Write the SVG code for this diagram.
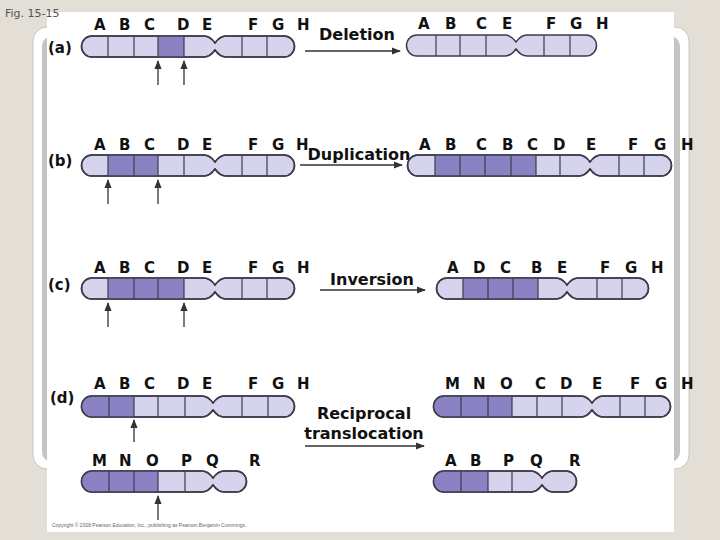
<svg xmlns="http://www.w3.org/2000/svg" xmlns:xlink="http://www.w3.org/1999/xlink" width="720" height="540" viewBox="0 0 720 540">
<style>
.ch{fill:#d5d4ec;stroke:#3c3c4c;stroke-width:1.5}
.dk{fill:#8a82c2}
.dv{stroke:#3c3c4c;stroke-width:1.2}
.lb{font-family:"DejaVu Sans",sans-serif;font-weight:bold;font-size:15px;fill:#111}
.op{font-family:"DejaVu Sans",sans-serif;font-weight:bold;font-size:16px;fill:#111;text-anchor:middle}
.ar{stroke:#333;stroke-width:1.3;fill:none}
</style>
<defs>
<marker id="ah" viewBox="0 0 10 10" refX="9" refY="5" markerWidth="7" markerHeight="7" orient="auto"><path d="M0,1 L10,5 L0,9 Z" fill="#333"/></marker>
<path id="p1" d="M92 36 H204 Q210 36 215 43 Q220 36 226 36 H284 A10 10 0 0 1 284 57 H226 Q220 57 215 50 Q210 57 204 57 H92 A10 10 0 0 1 92 36 Z"/>
<path id="p2" d="M417 35 H505 Q511 35 516 42 Q521 35 527 35 H586 A10 10 0 0 1 586 56 H527 Q521 56 516 49 Q511 56 505 56 H417 A10 10 0 0 1 417 35 Z"/>
<path id="p3" d="M92 155 H204 Q210 155 215 162 Q220 155 226 155 H284 A10 10 0 0 1 284 176 H226 Q220 176 215 169 Q210 176 204 176 H92 A10 10 0 0 1 92 155 Z"/>
<path id="p4" d="M418 155 H579 Q585 155 590 162 Q595 155 601 155 H661 A10 10 0 0 1 661 176 H601 Q595 176 590 169 Q585 176 579 176 H418 A10 10 0 0 1 418 155 Z"/>
<path id="p5" d="M92 278 H204 Q210 278 215 285 Q220 278 226 278 H284 A10 10 0 0 1 284 299 H226 Q220 299 215 292 Q210 299 204 299 H92 A10 10 0 0 1 92 278 Z"/>
<path id="p6" d="M447 278 H556 Q562 278 567 285 Q572 278 578 278 H638 A10 10 0 0 1 638 299 H578 Q572 299 567 292 Q562 299 556 299 H447 A10 10 0 0 1 447 278 Z"/>
<path id="p7" d="M92 396 H202 Q208 396 213 403 Q218 396 224 396 H284 A10 10 0 0 1 284 417 H224 Q218 417 213 410 Q208 417 202 417 H92 A10 10 0 0 1 92 396 Z"/>
<path id="p8" d="M92 471 H202 Q208 471 213 478 Q218 471 224 471 H236 A10 10 0 0 1 236 492 H224 Q218 492 213 485 Q208 492 202 492 H92 A10 10 0 0 1 92 471 Z"/>
<path id="p9" d="M444 396 H581 Q587 396 592 403 Q597 396 603 396 H660 A10 10 0 0 1 660 417 H603 Q597 417 592 410 Q587 417 581 417 H444 A10 10 0 0 1 444 396 Z"/>
<path id="p10" d="M444 471 H531 Q537 471 542 478 Q547 471 553 471 H566 A10 10 0 0 1 566 492 H553 Q547 492 542 485 Q537 492 531 492 H444 A10 10 0 0 1 444 471 Z"/>
<clipPath id="k1"><use xlink:href="#p1"/></clipPath>
<clipPath id="k3"><use xlink:href="#p3"/></clipPath>
<clipPath id="k4"><use xlink:href="#p4"/></clipPath>
<clipPath id="k5"><use xlink:href="#p5"/></clipPath>
<clipPath id="k6"><use xlink:href="#p6"/></clipPath>
<clipPath id="k7"><use xlink:href="#p7"/></clipPath>
<clipPath id="k8"><use xlink:href="#p8"/></clipPath>
<clipPath id="k9"><use xlink:href="#p9"/></clipPath>
<clipPath id="k10"><use xlink:href="#p10"/></clipPath>
</defs>
<rect width="720" height="540" fill="#e4dfd6"/>
<rect x="33" y="27" width="656" height="442" rx="14" fill="#fff" stroke="#c9c6c0"/>
<rect x="42" y="36" width="638" height="426" rx="10" fill="#c4c4c4"/>
<rect x="47" y="12" width="627" height="520" fill="#fff"/>
<text x="5" y="17" font-family="DejaVu Sans,sans-serif" font-size="11" fill="#555">Fig. 15-15</text>

<g id="connectors">
<line class="ar" x1="305" y1="51" x2="400" y2="51" marker-end="url(#ah)"/>
<line class="ar" x1="300" y1="165" x2="402" y2="165" marker-end="url(#ah)"/>
<line class="ar" x1="320" y1="290" x2="425" y2="290" marker-end="url(#ah)"/>
<line class="ar" x1="305" y1="446" x2="424" y2="446" marker-end="url(#ah)"/>
<line class="ar" x1="158" y1="85" x2="158" y2="61" marker-end="url(#ah)"/>
<line class="ar" x1="184" y1="85" x2="184" y2="61" marker-end="url(#ah)"/>
<line class="ar" x1="108" y1="204" x2="108" y2="180" marker-end="url(#ah)"/>
<line class="ar" x1="158" y1="204" x2="158" y2="180" marker-end="url(#ah)"/>
<line class="ar" x1="108" y1="327" x2="108" y2="303" marker-end="url(#ah)"/>
<line class="ar" x1="184" y1="327" x2="184" y2="303" marker-end="url(#ah)"/>
<line class="ar" x1="134" y1="442" x2="134" y2="420" marker-end="url(#ah)"/>
<line class="ar" x1="158" y1="520" x2="158" y2="496" marker-end="url(#ah)"/>
</g>

<g id="a-left">
<text class="lb" x="48" y="53">(a)</text>
<use xlink:href="#p1" class="ch"/>
<rect class="dk" x="158" y="30" width="26" height="32" clip-path="url(#k1)"/>
<path class="dv" d="M108 36V57M134 36V57M158 36V57M184 36V57M242 36V57M267 36V57"/>
<use xlink:href="#p1" fill="none" stroke="#3c3c4c" stroke-width="1.5"/>
<text class="lb" y="30"><tspan x="94">A</tspan><tspan x="119">B</tspan><tspan x="144">C</tspan><tspan x="177">D</tspan><tspan x="202">E</tspan><tspan x="248">F</tspan><tspan x="272">G</tspan><tspan x="297">H</tspan></text>
<text class="op" x="357" y="40">Deletion</text>
</g>
<g id="a-right">
<use xlink:href="#p2" class="ch"/>
<path class="dv" d="M436 35V56M460 35V56M486 35V56M544 35V56M570 35V56"/>
<text class="lb" y="29"><tspan x="418">A</tspan><tspan x="445">B</tspan><tspan x="476">C</tspan><tspan x="502">E</tspan><tspan x="546">F</tspan><tspan x="570">G</tspan><tspan x="596">H</tspan></text>
</g>

<g id="b-left">
<text class="lb" x="48" y="166">(b)</text>
<use xlink:href="#p3" class="ch"/>
<rect class="dk" x="108" y="150" width="50" height="32" clip-path="url(#k3)"/>
<path class="dv" d="M108 155V176M134 155V176M158 155V176M184 155V176M242 155V176M267 155V176"/>
<use xlink:href="#p3" fill="none" stroke="#3c3c4c" stroke-width="1.5"/>
<text class="lb" y="150"><tspan x="94">A</tspan><tspan x="119">B</tspan><tspan x="144">C</tspan><tspan x="177">D</tspan><tspan x="202">E</tspan><tspan x="248">F</tspan><tspan x="272">G</tspan><tspan x="296">H</tspan></text>
<text class="op" x="359" y="160" font-size="15">Duplication</text>
</g>
<g id="b-right">
<use xlink:href="#p4" class="ch"/>
<rect class="dk" x="435" y="150" width="101" height="32" clip-path="url(#k4)"/>
<path class="dv" d="M435 155V176M460 155V176M485 155V176M511 155V176M536 155V176M560 155V176M619 155V176M644 155V176"/>
<use xlink:href="#p4" fill="none" stroke="#3c3c4c" stroke-width="1.5"/>
<text class="lb" y="150"><tspan x="419">A</tspan><tspan x="445">B</tspan><tspan x="476">C</tspan><tspan x="502">B</tspan><tspan x="527">C</tspan><tspan x="553">D</tspan><tspan x="586">E</tspan><tspan x="628">F</tspan><tspan x="654">G</tspan><tspan x="681">H</tspan></text>
</g>

<g id="c-left">
<text class="lb" x="48" y="290">(c)</text>
<use xlink:href="#p5" class="ch"/>
<rect class="dk" x="108" y="272" width="76" height="32" clip-path="url(#k5)"/>
<path class="dv" d="M108 278V299M134 278V299M158 278V299M184 278V299M242 278V299M267 278V299"/>
<use xlink:href="#p5" fill="none" stroke="#3c3c4c" stroke-width="1.5"/>
<text class="lb" y="273"><tspan x="94">A</tspan><tspan x="119">B</tspan><tspan x="144">C</tspan><tspan x="177">D</tspan><tspan x="202">E</tspan><tspan x="248">F</tspan><tspan x="272">G</tspan><tspan x="297">H</tspan></text>
<text class="op" x="372" y="285">Inversion</text>
</g>
<g id="c-right">
<use xlink:href="#p6" class="ch"/>
<rect class="dk" x="463" y="272" width="75" height="32" clip-path="url(#k6)"/>
<path class="dv" d="M463 278V299M488 278V299M513 278V299M538 278V299M597 278V299M622 278V299"/>
<use xlink:href="#p6" fill="none" stroke="#3c3c4c" stroke-width="1.5"/>
<text class="lb" y="273"><tspan x="447">A</tspan><tspan x="473">D</tspan><tspan x="500">C</tspan><tspan x="531">B</tspan><tspan x="557">E</tspan><tspan x="600">F</tspan><tspan x="625">G</tspan><tspan x="651">H</tspan></text>
</g>

<g id="d-left">
<text class="lb" x="50" y="403">(d)</text>
<use xlink:href="#p7" class="ch"/>
<rect class="dk" x="80" y="390" width="54" height="32" clip-path="url(#k7)"/>
<path class="dv" d="M109 396V417M134 396V417M158 396V417M185 396V417M242 396V417M268 396V417"/>
<use xlink:href="#p7" fill="none" stroke="#3c3c4c" stroke-width="1.5"/>
<text class="lb" y="389"><tspan x="94">A</tspan><tspan x="119">B</tspan><tspan x="144">C</tspan><tspan x="177">D</tspan><tspan x="202">E</tspan><tspan x="248">F</tspan><tspan x="272">G</tspan><tspan x="297">H</tspan></text>
</g>
<g id="d-left-2">
<use xlink:href="#p8" class="ch"/>
<rect class="dk" x="80" y="466" width="78" height="32" clip-path="url(#k8)"/>
<path class="dv" d="M109 471V492M134 471V492M158 471V492M185 471V492"/>
<use xlink:href="#p8" fill="none" stroke="#3c3c4c" stroke-width="1.5"/>
<text class="lb" y="466"><tspan x="92">M</tspan><tspan x="119">N</tspan><tspan x="146">O</tspan><tspan x="181">P</tspan><tspan x="206">Q</tspan><tspan x="249">R</tspan></text>
</g>
<g id="d-label">
<text class="op" x="364" y="419">Reciprocal</text>
<text class="op" x="364" y="439">translocation</text>
</g>
<g id="d-right">
<use xlink:href="#p9" class="ch"/>
<rect class="dk" x="432" y="390" width="80" height="32" clip-path="url(#k9)"/>
<path class="dv" d="M461 396V417M488 396V417M512 396V417M537 396V417M562 396V417M620 396V417M645 396V417"/>
<use xlink:href="#p9" fill="none" stroke="#3c3c4c" stroke-width="1.5"/>
<text class="lb" y="389"><tspan x="445">M</tspan><tspan x="473">N</tspan><tspan x="500">O</tspan><tspan x="535">C</tspan><tspan x="560">D</tspan><tspan x="592">E</tspan><tspan x="630">F</tspan><tspan x="655">G</tspan><tspan x="681">H</tspan></text>
</g>
<g id="d-right-2">
<use xlink:href="#p10" class="ch"/>
<rect class="dk" x="432" y="466" width="56" height="32" clip-path="url(#k10)"/>
<path class="dv" d="M461 471V492M488 471V492M512 471V492"/>
<use xlink:href="#p10" fill="none" stroke="#3c3c4c" stroke-width="1.5"/>
<text class="lb" y="466"><tspan x="445">A</tspan><tspan x="470">B</tspan><tspan x="503">P</tspan><tspan x="530">Q</tspan><tspan x="569">R</tspan></text>
</g>
<text x="52" y="527" font-family="Liberation Sans,sans-serif" font-size="5" fill="#666">Copyright © 2008 Pearson Education, Inc., publishing as Pearson Benjamin Cummings.</text>
</svg>
